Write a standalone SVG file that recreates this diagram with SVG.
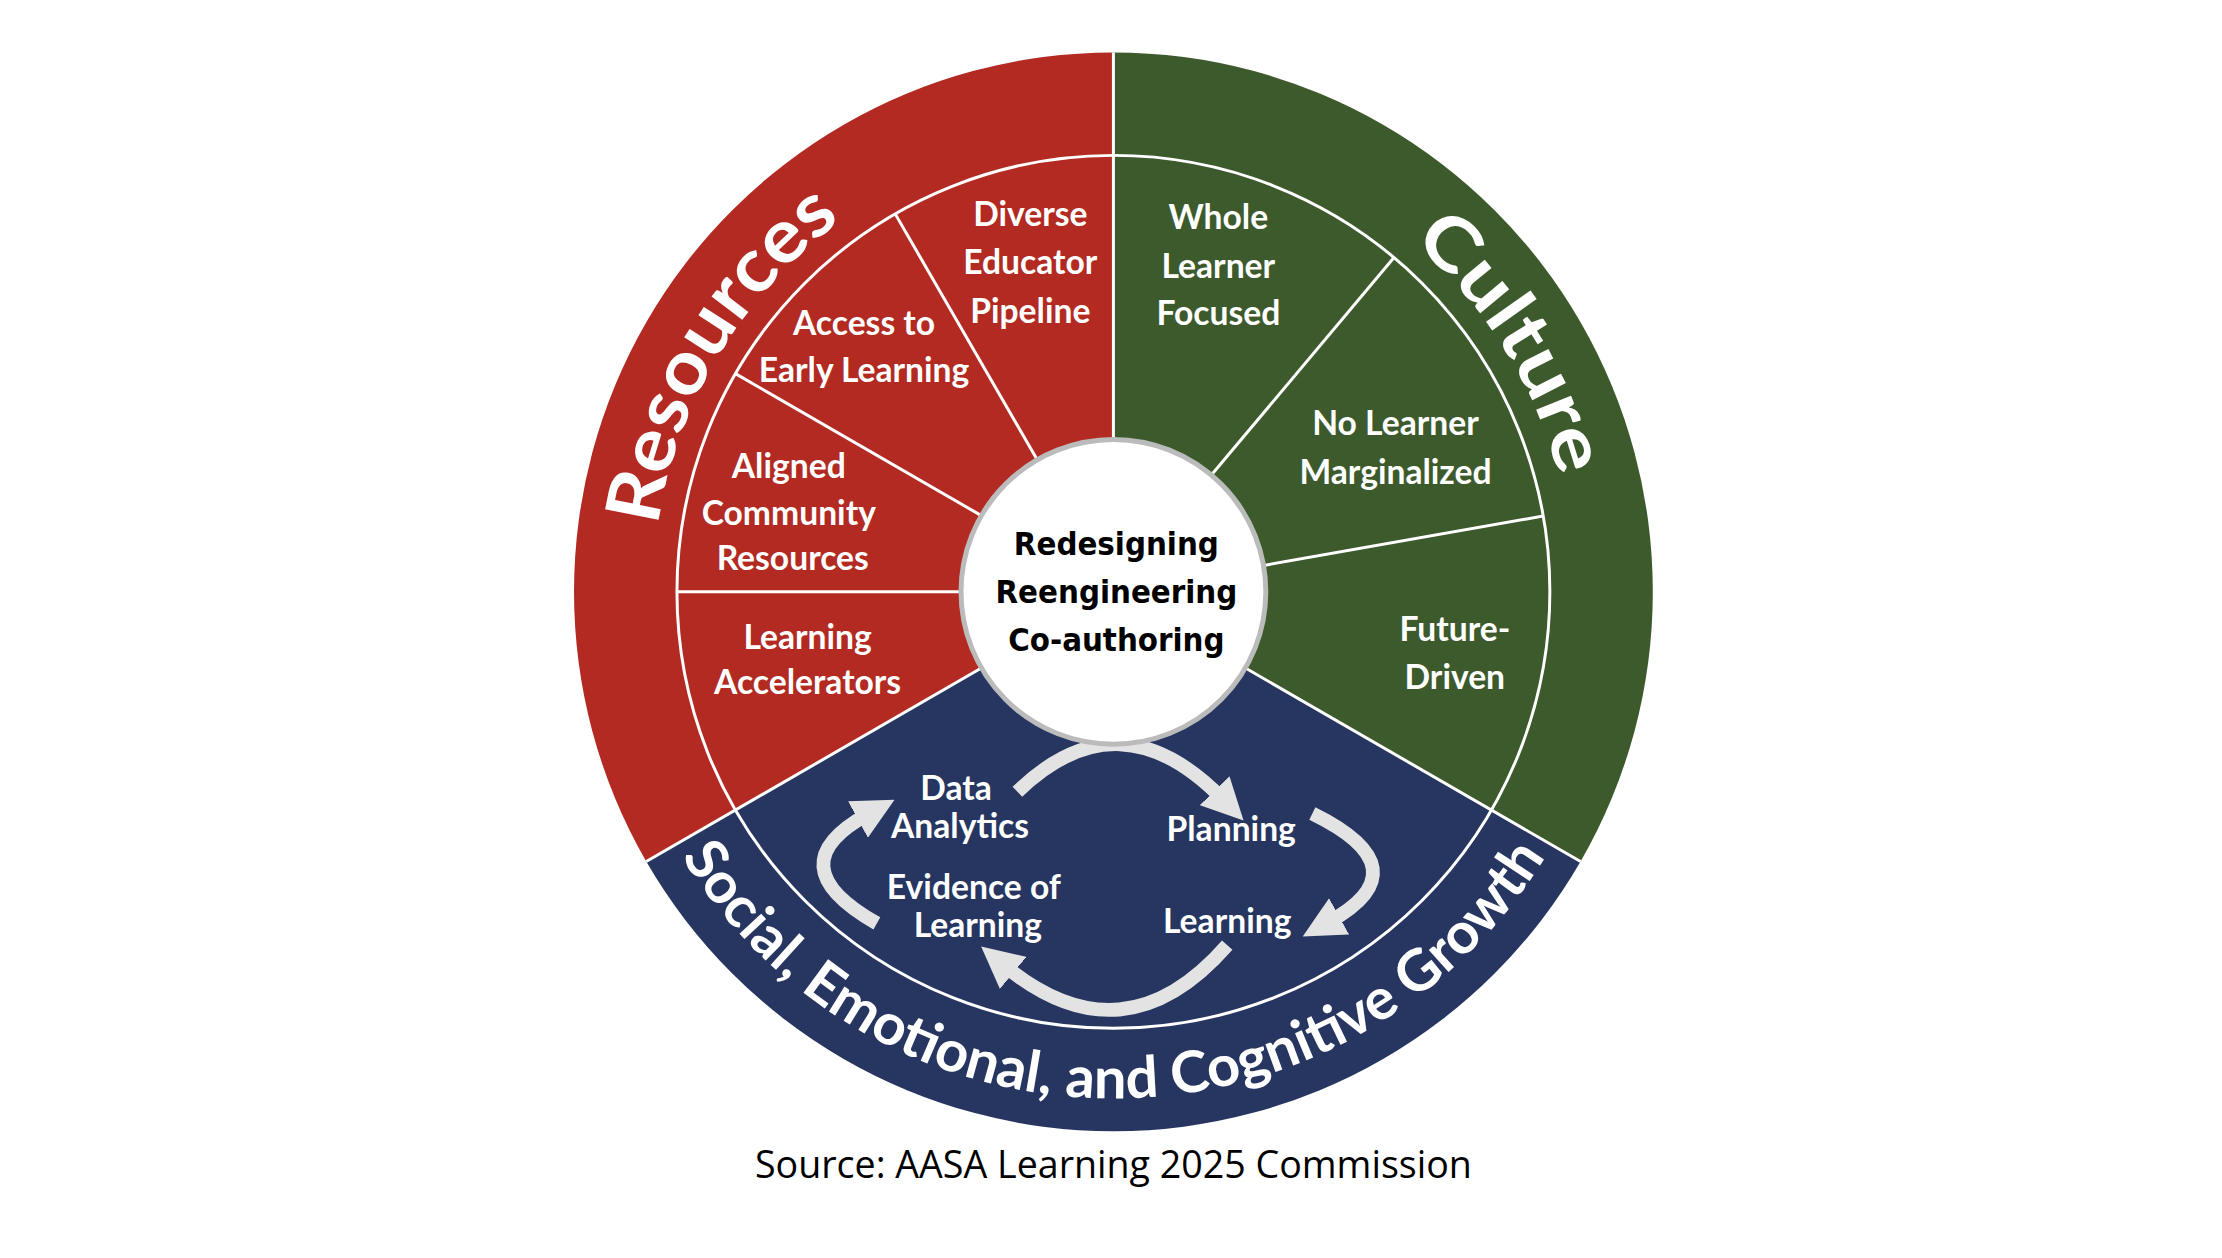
<svg xmlns="http://www.w3.org/2000/svg" width="2222" height="1258" viewBox="0 0 2222 1258">
<defs>
<style>
.lbl{font-family:Lato,"Open Sans",sans-serif;font-weight:bold;font-size:34px;fill:#fff;text-anchor:middle}
.big{font-family:Lato,"Open Sans",sans-serif;font-weight:bold;fill:#fff;text-anchor:middle}
.ctr{font-family:"DejaVu Sans Condensed","DejaVu Sans",sans-serif;font-weight:bold;font-size:33px;fill:#000;text-anchor:middle}
.div{stroke:#fff;stroke-width:3;fill:none}
.cyc{stroke:#e3e3e3;stroke-width:14;fill:none;marker-end:url(#ah)}
</style>
<marker id="ah" viewBox="0 0 10 10" refX="3" refY="5" markerWidth="3" markerHeight="3" orient="auto" markerUnits="strokeWidth">
<path d="M0,0 L10,5 L0,10 Z" fill="#e3e3e3"/>
</marker>
<path id="pRes" d="M 660 598 A 465 465 0 0 1 1044.3 140.1" transform="rotate(-9 1125 598)"/>
<path id="pCul" d="M 1221.7 143.2 A 465 465 0 0 1 1589.7 614.2" transform="rotate(6 1125 598)"/>
<path id="pSoc" d="M 643.9 773.1 A 512 512 0 0 0 1606.1 773.1"/>
</defs>
<rect width="2222" height="1258" fill="#fff"/>
<g transform="scale(0.9897)">
<g id="sectors">
<path d="M1125 598 L653 870.5 A545 545 0 0 1 1125 53 Z" fill="#b22a22"/>
<path d="M1125 598 L1125 53 A545 545 0 0 1 1597 870.5 Z" fill="#3d5a2d"/>
<path d="M1125 598 L1597 870.5 A545 545 0 0 1 653 870.5 Z" fill="#263660"/>
</g>
<g id="connectors">
<circle cx="1125" cy="598" r="441" class="div"/>
<line x1="1125" y1="444" x2="1125" y2="53" class="div"/>
<line x1="1258.4" y1="675" x2="1597" y2="870.5" class="div"/>
<line x1="991.6" y1="675" x2="653" y2="870.5" class="div"/>
<line x1="971" y1="598" x2="684" y2="598" class="div"/>
<line x1="991.6" y1="521" x2="743.1" y2="377.5" class="div"/>
<line x1="1048" y1="464.6" x2="904.5" y2="216.1" class="div"/>
<line x1="1224" y1="480" x2="1408.5" y2="260.2" class="div"/>
<line x1="1276.7" y1="571.3" x2="1559.3" y2="521.4" class="div"/>
<path class="cyc" d="M 1028 800 Q 1131 700 1236 808"/>
<path class="cyc" d="M 1326 822 Q 1440 878 1342 932"/>
<path class="cyc" d="M 1240 955 Q 1135 1075 1014 975"/>
<path class="cyc" d="M 886 933 Q 782 874 878 822"/>
</g>
<g id="center">
<circle cx="1125" cy="598" r="154" fill="#fff" stroke="#bbb" stroke-width="5"/>
<text class="ctr" x="1128" y="561">Redesigning</text>
<text class="ctr" x="1128" y="609">Reengineering</text>
<text class="ctr" x="1128" y="658">Co-authoring</text>
</g>
<g id="ring-labels">
<text class="big" font-size="76"><textPath href="#pRes" startOffset="50%" textLength="370" lengthAdjust="spacingAndGlyphs">Resources</textPath></text>
<text class="big" font-size="74"><textPath href="#pCul" startOffset="50%" textLength="285" lengthAdjust="spacingAndGlyphs">Culture</textPath></text>
<text class="big" font-size="58"><textPath href="#pSoc" startOffset="50%" textLength="1045" lengthAdjust="spacingAndGlyphs">Social, Emotional, and Cognitive Growth</textPath></text>
</g>
<g id="n-diverse"><text class="lbl" x="1041" y="228">Diverse</text><text class="lbl" x="1041" y="277">Educator</text><text class="lbl" x="1041" y="326">Pipeline</text></g>
<g id="n-access"><text class="lbl" x="873" y="338">Access to</text><text class="lbl" x="873" y="386">Early Learning</text></g>
<g id="n-aligned"><text class="lbl" x="797" y="483">Aligned</text><text class="lbl" x="797" y="530">Community</text><text class="lbl" x="801" y="576">Resources</text></g>
<g id="n-accel"><text class="lbl" x="816" y="656">Learning</text><text class="lbl" x="816" y="701">Accelerators</text></g>
<g id="n-whole"><text class="lbl" x="1231" y="231">Whole</text><text class="lbl" x="1231" y="281">Learner</text><text class="lbl" x="1231" y="328">Focused</text></g>
<g id="n-nolearner"><text class="lbl" x="1410" y="440">No Learner</text><text class="lbl" x="1410" y="489">Marginalized</text></g>
<g id="n-future"><text class="lbl" x="1470" y="648">Future-</text><text class="lbl" x="1470" y="696">Driven</text></g>
<g id="n-data"><text class="lbl" x="966" y="808">Data</text><text class="lbl" x="970" y="847">Analytics</text></g>
<g id="n-planning"><text class="lbl" x="1244" y="850">Planning</text></g>
<g id="n-learning"><text class="lbl" x="1240" y="943">Learning</text></g>
<g id="n-evidence"><text class="lbl" x="984" y="908">Evidence of</text><text class="lbl" x="988" y="947">Learning</text></g>
<text x="1125" y="1190" font-family="'Open Sans',Lato,sans-serif" font-size="38" fill="#000" text-anchor="middle">Source: AASA Learning 2025 Commission</text>
</g>
</svg>
